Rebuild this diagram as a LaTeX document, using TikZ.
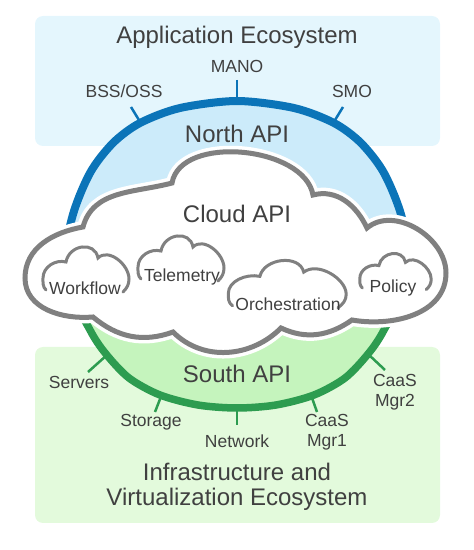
\documentclass[tikz,border=0pt]{standalone}
\usepackage{fontspec}
\setmainfont{Liberation Sans}
\usetikzlibrary{positioning}

\definecolor{txtgray}{HTML}{404040}
\definecolor{appbox}{HTML}{E4F6FD}
\definecolor{infrabox}{HTML}{E3FADC}
\definecolor{northfill}{HTML}{CCEBFA}
\definecolor{southfill}{HTML}{C5F4BD}
\definecolor{northblue}{HTML}{0B74B8}
\definecolor{southgreen}{HTML}{2D9C50}
\definecolor{cloudgray}{HTML}{808080}

\begin{document}
\begin{tikzpicture}[x=1pt, y=1pt,
  bigtxt/.style={font=\fontsize{24}{25.5}\selectfont, text=txtgray, align=center, inner sep=0pt},
  smalltxt/.style={font=\fontsize{17.5}{19.5}\selectfont, text=txtgray, align=center, inner sep=0pt},
  ecobox/.style={rounded corners=8pt, draw=none},
  northtick/.style={draw=northblue, line width=2.5pt},
  southtick/.style={draw=southgreen, line width=2.5pt},
  minicloud/.pic={
    \draw[cloudgray, line width=3pt, line cap=round]
      (4,5) to[out=135,in=-90] (1,17) to[out=90,in=165] (24,33)
      to[out=80,in=100,looseness=1.4] (56,37)
      to[out=45,in=90] (87,16) to[out=-90,in=45] (81,3);
  }]
\useasboundingbox (0,0) rectangle (474,550);

% ecosystem boxes
\fill[appbox, ecobox] (35,404) rectangle (440,534);
\fill[infrabox, ecobox] (35,27) rectangle (440,203);

% API ring
\path[save path=\ringsaved] plot[smooth cycle] coordinates {
  (64,275) (72,332) (90,377) (113,407) (140,427) (180,442) (237,449)
  (294,442) (334,427) (361,407) (384,377) (402,332) (410,275)
  (384,220) (368,196) (345,172) (314,155) (276,145) (237,142)
  (198,145) (160,155) (129,172) (106,196) (90,220)};
\begin{scope}
  \clip (0,275) rectangle (474,550);
  \path[use path=\ringsaved, fill=northfill, draw=northblue, line width=8pt];
\end{scope}
\begin{scope}
  \clip (0,0) rectangle (474,275);
  \path[use path=\ringsaved, fill=southfill, draw=southgreen, line width=7.5pt];
\end{scope}

% ticks
\coordinate (manoout) at (237,470);  \coordinate (manoin) at (237,449);
\coordinate (bssout) at (131,443);   \coordinate (bssin) at (142,425);
\coordinate (smoout) at (343,443);   \coordinate (smoin) at (332,425);
\coordinate (servout) at (88,178);   \coordinate (servin) at (107,195);
\coordinate (storout) at (155,138);  \coordinate (storin) at (162,156);
\coordinate (netout) at (237,125);   \coordinate (netin) at (237,142);
\coordinate (mgroneout) at (317,138); \coordinate (mgronein) at (311,155);
\coordinate (mgrtwoout) at (385,180); \coordinate (mgrtwoin) at (368,196);
\draw[northtick] (manoout) -- (manoin);
\draw[northtick] (bssout) -- (bssin);
\draw[northtick] (smoout) -- (smoin);
\draw[southtick] (servout) -- (servin);
\draw[southtick] (storout) -- (storin);
\draw[southtick] (netout) -- (netin);
\draw[southtick] (mgroneout) -- (mgronein);
\draw[southtick] (mgrtwoout) -- (mgrtwoin);

% cloud
\draw[cloudgray, line width=5pt, fill=white, preaction={draw=white, line width=12pt}]
  (83,323) to[out=75,in=195] (172,367)
  to[out=80,in=100,looseness=0.9] (313,355)
  to[out=15,in=115] (367,322)
  to[out=40,in=90] (446,277)
  to[out=-90,in=-10] (352,230)
  to[out=215,in=-25] (281,222)
  to[out=225,in=-45] (173,218)
  to[out=200,in=-40] (93,233)
  to[out=185,in=-90] (25,272)
  to[out=90,in=190] cycle;

\pic (wfcloud) at (42,255) {minicloud};
\pic (telcloud) at (137,266) {minicloud};
\pic[xscale=1.37, yscale=1.05] (orchcloud) at (227,239) {minicloud};
\pic[xscale=0.83, yscale=0.8] (polcloud) at (359,258) {minicloud};

% texts
\node[bigtxt] (appeco) at (237,513) {Application Ecosystem};
\node[smalltxt] (mano) at (237,484) {MANO};
\node[smalltxt] (bssoss) at (124,459) {BSS/OSS};
\node[smalltxt] (smo) at (352,459) {SMO};
\node[bigtxt] (northapi) at (237,416) {North API};
\node[bigtxt] (cloudapi) at (237,336) {Cloud API};
\node[smalltxt] (workflow) at (85,262) {Workflow};
\node[smalltxt] (telemetry) at (182,273) {Telemetry};
\node[smalltxt] (orch) at (288,246) {Orchestration};
\node[smalltxt] (policy) at (393,262) {Policy};
\node[bigtxt] (southapi) at (237,176) {South API};
\node[smalltxt] (servers) at (79,168) {Servers};
\node[smalltxt] (storage) at (151,128) {Storage};
\node[smalltxt] (network) at (237,109) {Network};
\node[smalltxt] (mgrone) at (327,118) {CaaS\\Mgr1};
\node[smalltxt] (mgrtwo) at (395,158) {CaaS\\Mgr2};
\node[bigtxt] (infraeco) at (237,63) {Infrastructure and\\Virtualization Ecosystem};
\end{tikzpicture}
\end{document}
